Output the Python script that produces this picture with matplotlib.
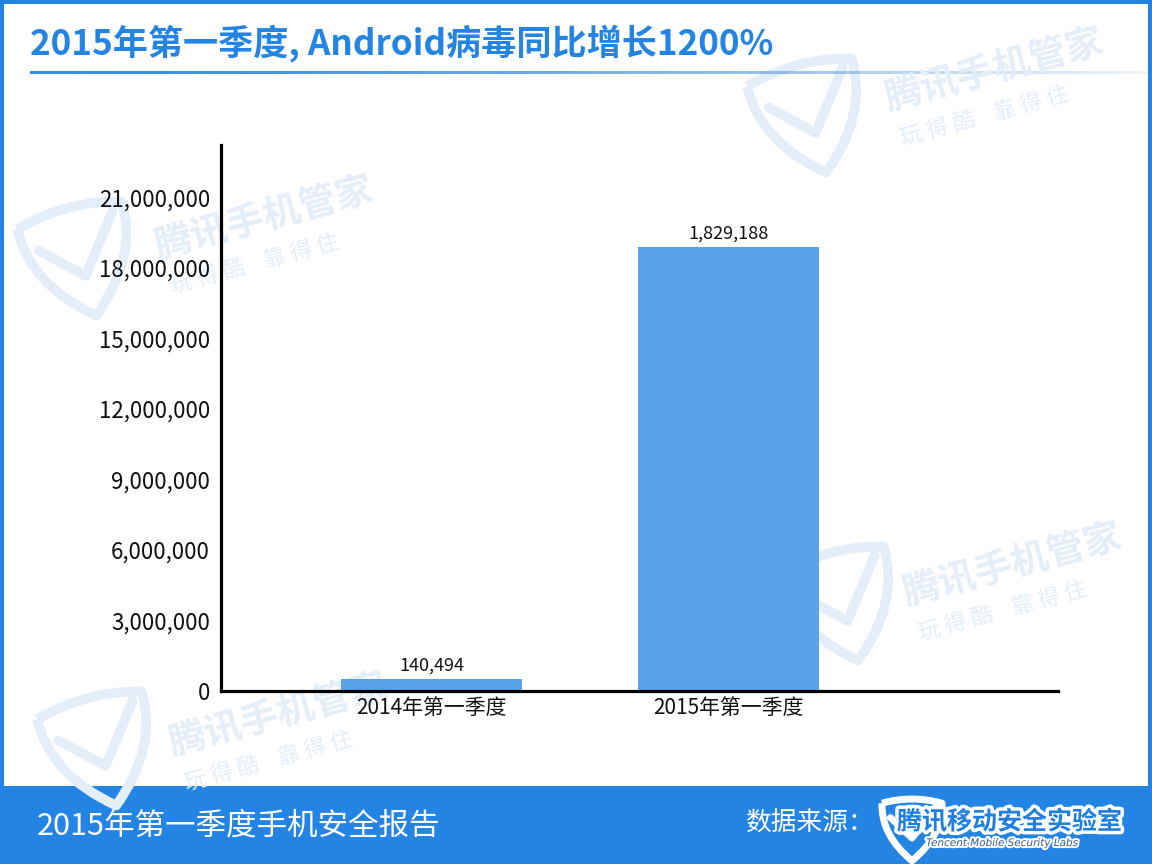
import matplotlib
matplotlib.use("Agg")
import matplotlib.pyplot as plt
import matplotlib.patheffects as pe
from matplotlib.path import Path
from matplotlib.patches import PathPatch, Rectangle
from matplotlib.colors import to_rgb
import numpy as np

plt.rcParams["font.family"] = ["Noto Sans CJK SC", "DejaVu Sans"]

# data
categories = ["2014年第一季度", "2015年第一季度"]
bar_heights = [510000, 18890000]          # heights as drawn
bar_labels = ["140,494", "1,829,188"]      # labels as printed
y_ticks = [0, 3000000, 6000000, 9000000, 12000000, 15000000, 18000000, 21000000]

title = "2015年第一季度, Android病毒同比增长1200%"
footer = "2015年第一季度手机安全报告"
source = "数据来源："

BLUE = "#2484e3"
BAR = "#59a3e9"
WM = "#e4eef9"

W, H = 1152, 864
fig = plt.figure(figsize=(W / 100, H / 100), dpi=100, facecolor=BLUE)

# background layer in pixel coordinates
bg = fig.add_axes([0, 0, 1, 1], zorder=0)
bg.set_xlim(0, W)
bg.set_ylim(H, 0)
bg.axis("off")
bg.add_patch(Rectangle((4, 4), W - 8, 782, facecolor="white", edgecolor="none"))


def shield(ax, cx, cy, size, angle, color, lw, fill=None, zorder=1):
    """Shield outline with a check mark, centred at (cx, cy) in pixels."""
    verts = [(-0.5, -0.38), (0.0, -0.52), (0.5, -0.38),
             (0.52, 0.15), (0.0, 0.58),
             (-0.52, 0.15), (-0.5, -0.38)]
    codes = [Path.MOVETO, Path.CURVE3, Path.CURVE3,
             Path.CURVE3, Path.CURVE3, Path.CURVE3, Path.CURVE3]
    check = [(-0.36, -0.14), (0.0, 0.2), (0.4, -0.32)]
    a = np.deg2rad(angle)
    rot = np.array([[np.cos(a), -np.sin(a)], [np.sin(a), np.cos(a)]])

    def tr(pts):
        p = np.array(pts) * size
        return p @ rot.T + np.array([cx, cy])

    ax.add_patch(PathPatch(Path(tr(verts), codes), facecolor=fill or "none",
                           edgecolor=color, lw=lw, joinstyle="round",
                           zorder=zorder))
    ax.add_patch(PathPatch(Path(tr(check), [Path.MOVETO, Path.LINETO, Path.LINETO]),
                           facecolor="none", edgecolor=color, lw=lw,
                           capstyle="round", joinstyle="round", zorder=zorder))


def watermark(ax, sx, sy, tx, ty):
    shield(ax, sx, sy, 108, -15, WM, 7)
    ax.text(tx, ty, "腾讯手机管家", fontsize=27, fontweight="bold", color=WM,
            rotation=15, rotation_mode="anchor", ha="left", va="baseline")
    ax.text(tx + 14, ty + 35, "玩 得 酷    靠 得 住", fontsize=16, color=WM,
            rotation=15, rotation_mode="anchor", ha="left", va="baseline")


watermark(bg, 810, 112, 888, 110)
watermark(bg, 80, 255, 158, 258)
watermark(bg, 842, 600, 906, 605)
watermark(bg, 100, 745, 172, 755)

# title and fading underline
bg.text(30, 43, title, fontsize=25.3, fontweight="bold", color=BLUE,
        ha="left", va="center")
grad = np.zeros((1, 400, 4))
grad[..., :3] = to_rgb("#3b8ed8")
grad[..., 3] = 1.0 - 0.92 * np.linspace(0, 1, 400) ** 1.6
bg.imshow(grad, extent=(30, W - 4, 74.5, 71.5), aspect="auto",
          interpolation="bilinear", zorder=2)
bg.set_xlim(0, W)
bg.set_ylim(H, 0)

# main chart
ax = fig.add_axes([221 / W, 1 - 691 / H, 837 / W, 546 / H], zorder=1)
ax.set_facecolor("none")
x = np.arange(len(categories))
bars = ax.bar(x, bar_heights, width=0.61, color=BAR, zorder=2)
for rect, lab in zip(bars, bar_labels):
    ax.annotate(lab, (rect.get_x() + rect.get_width() / 2, rect.get_height()),
                xytext=(0, 3), textcoords="offset points",
                ha="center", va="bottom", fontsize=13, color="#111111")

ax.set_xlim(-0.711, 2.113)
ax.set_ylim(0, 23230000)
ax.set_yticks(y_ticks)
ax.set_yticklabels([f"{v:,}" for v in y_ticks])
ax.set_xticks(x)
ax.set_xticklabels(categories)
ax.tick_params(axis="both", length=0, labelsize=15, colors="#111111")
ax.tick_params(axis="y", pad=8, labelsize=16)
ax.tick_params(axis="x", pad=4)
for side in ("top", "right"):
    ax.spines[side].set_visible(False)
for side in ("left", "bottom"):
    ax.spines[side].set_linewidth(2.3)
    ax.spines[side].set_color("black")

# footer layer
fg = fig.add_axes([0, 0, 1, 1], zorder=2)
fg.set_xlim(0, W)
fg.set_ylim(H, 0)
fg.axis("off")
fg.text(37, 826, footer, fontsize=22, color="white", ha="left", va="center")
fg.text(745, 824, source, fontsize=18.5, color="white", ha="left", va="center")
shield(fg, 912, 826, 60, 0, "white", 5, fill=BLUE, zorder=3)
fg.text(897, 822, "腾讯移动安全实验室", fontsize=18, fontweight="bold",
        color="#1f7fe0", ha="left", va="center", zorder=4,
        path_effects=[pe.withStroke(linewidth=5, foreground="white")])
fg.text(926, 843, "Tencent Mobile Security Labs", fontsize=7.5, style="italic",
        color="#3a5f8a", ha="left", va="center", family="DejaVu Sans", zorder=4,
        path_effects=[pe.withStroke(linewidth=3, foreground="white")])

fig.savefig("out.png", dpi=100, facecolor=BLUE)
